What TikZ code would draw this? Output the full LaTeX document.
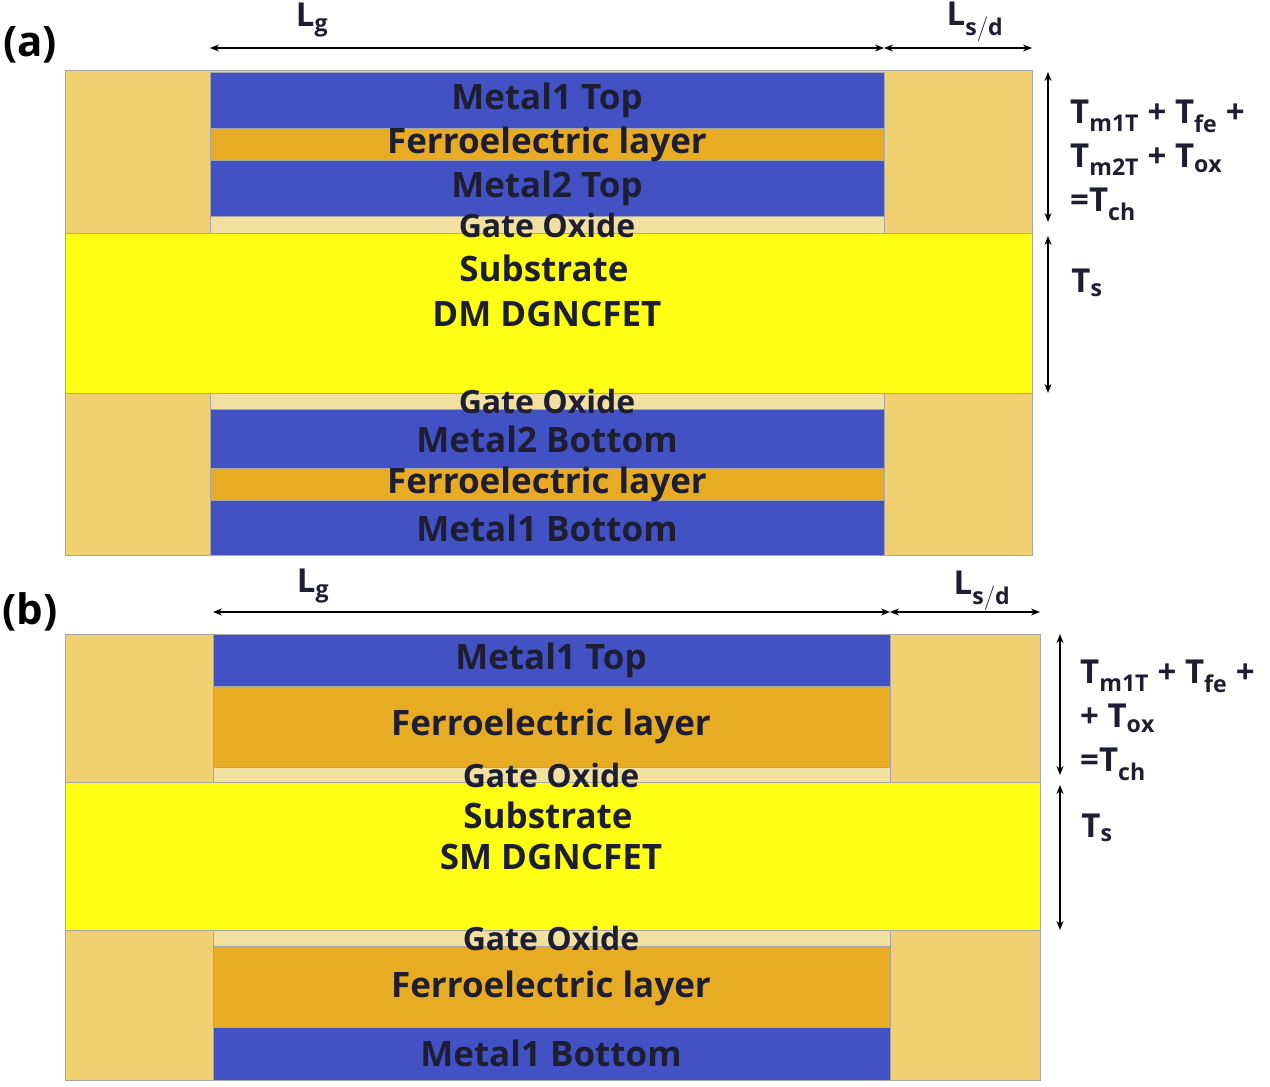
\documentclass[tikz,border=0pt]{standalone}
\usepackage{fontspec}
\usetikzlibrary{arrows.meta}
\setmainfont{Open Sans}
\definecolor{mblue}{RGB}{66,82,196}
\definecolor{fe}{RGB}{232,172,36}
\definecolor{sd}{RGB}{240,208,112}
\definecolor{ox}{RGB}{242,224,160}
\definecolor{sub}{RGB}{255,255,20}
\definecolor{tx}{RGB}{30,30,50}
\begin{document}
\begin{tikzpicture}[x=1pt,y=-1pt,
  lay/.style={draw=gray!70,line width=0.6pt},
  lbl/.style={font=\fontsize{35}{37}\selectfont\bfseries,text=tx,inner sep=0},
  gox/.style={font=\fontsize{32}{34}\selectfont\bfseries,text=tx,inner sep=0},
  dim/.style={font=\fontsize{33}{44}\selectfont\bfseries,text=tx,align=left,inner sep=0},
  arr/.style={<->,>={Stealth[length=9pt,width=7pt]},line width=1.3pt}]
\useasboundingbox (0,0) rectangle (1270,1087);
% ---------- (a)
\node[font=\fontsize{42}{44}\selectfont\bfseries] (pa) at (30,45) {(a)};
\fill[sd,lay] (65,70) rectangle (1032,555);
\fill[mblue,lay] (210,72) rectangle (884,128);
\fill[fe,lay] (210,128) rectangle (884,160);
\fill[mblue,lay] (210,160) rectangle (884,216);
\fill[ox,lay] (210,216) rectangle (884,233);
\fill[sub,lay] (65,233) rectangle (1032,393);
\fill[ox,lay] (210,393) rectangle (884,409);
\fill[mblue,lay] (210,409) rectangle (884,468);
\fill[fe,lay] (210,468) rectangle (884,500);
\fill[mblue,lay] (210,500) rectangle (884,555);
\node[lbl] (a1) at (547,100) {Metal1 Top};
\node[lbl] (a2) at (547,144) {Ferroelectric layer};
\node[lbl] (a3) at (547,188) {Metal2 Top};
\node[gox] (a4) at (547,225) {Gate Oxide};
\node[lbl] (a5) at (544,268) {Substrate};
\node[lbl] (a6) at (547,314) {DM DGNCFET};
\node[gox] (a7) at (547,401) {Gate Oxide};
\node[lbl] (a8) at (547,439) {Metal2 Bottom};
\node[lbl] (a9) at (547,484) {Ferroelectric layer};
\node[lbl] (a10) at (547,528) {Metal1 Bottom};
\coordinate (ga1) at (210,48); \coordinate (ga2) at (884,48); \coordinate (ga3) at (1032,48);
\draw[arr] (ga1) -- (ga2); \draw[arr] (ga2) -- (ga3);
\node[dim] (lga) at (312,20) {L$_{\mathbf g}$};
\node[dim] (lsa) at (975,22) {L$_{\mathbf{s/d}}$};
\coordinate (va1) at (1048,72); \coordinate (va2) at (1048,222);
\coordinate (va3) at (1048,236); \coordinate (va4) at (1048,393);
\draw[arr] (va1) -- (va2); \draw[arr] (va3) -- (va4);
\node[dim,anchor=north west] (tca) at (1070,100) {T$_{\mathbf{m1T}}$ + T$_{\mathbf{fe}}$ +\\T$_{\mathbf{m2T}}$ + T$_{\mathbf{ox}}$\\=T$_{\mathbf{ch}}$};
\node[dim] (tsa) at (1087,283) {T$_{\mathbf s}$};
% ---------- (b)
\node[font=\fontsize{42}{44}\selectfont\bfseries] (pb) at (30,612) {(b)};
\fill[sd,lay] (65,634) rectangle (1040,1080);
\fill[mblue,lay] (213,634) rectangle (890,686);
\fill[fe,lay] (213,686) rectangle (890,767);
\fill[ox,lay] (213,767) rectangle (890,782);
\fill[sub,lay] (65,782) rectangle (1040,930);
\fill[ox,lay] (213,930) rectangle (890,946);
\fill[fe,lay] (213,946) rectangle (890,1027);
\fill[mblue,lay] (213,1027) rectangle (890,1080);
\node[lbl] (b1) at (551,660) {Metal1 Top};
\node[lbl] (b2) at (551,726) {Ferroelectric layer};
\node[gox] (b3) at (551,775) {Gate Oxide};
\node[lbl] (b4) at (548,815) {Substrate};
\node[lbl] (b5) at (551,857) {SM DGNCFET};
\node[gox] (b6) at (551,938) {Gate Oxide};
\node[lbl] (b7) at (551,988) {Ferroelectric layer};
\node[lbl] (b8) at (551,1053) {Metal1 Bottom};
\coordinate (gb1) at (213,612); \coordinate (gb2) at (890,612); \coordinate (gb3) at (1040,612);
\draw[arr] (gb1) -- (gb2); \draw[arr] (gb2) -- (gb3);
\node[dim] (lgb) at (313,586) {L$_{\mathbf g}$};
\node[dim] (lsb) at (982,591) {L$_{\mathbf{s/d}}$};
\coordinate (vb1) at (1060,634); \coordinate (vb2) at (1060,775);
\coordinate (vb3) at (1060,785); \coordinate (vb4) at (1060,930);
\draw[arr] (vb1) -- (vb2); \draw[arr] (vb3) -- (vb4);
\node[dim,anchor=north west] (tcb) at (1080,660) {T$_{\mathbf{m1T}}$ + T$_{\mathbf{fe}}$ +\\+ T$_{\mathbf{ox}}$\\=T$_{\mathbf{ch}}$};
\node[dim] (tsb) at (1097,828) {T$_{\mathbf s}$};
\end{tikzpicture}
\end{document}
